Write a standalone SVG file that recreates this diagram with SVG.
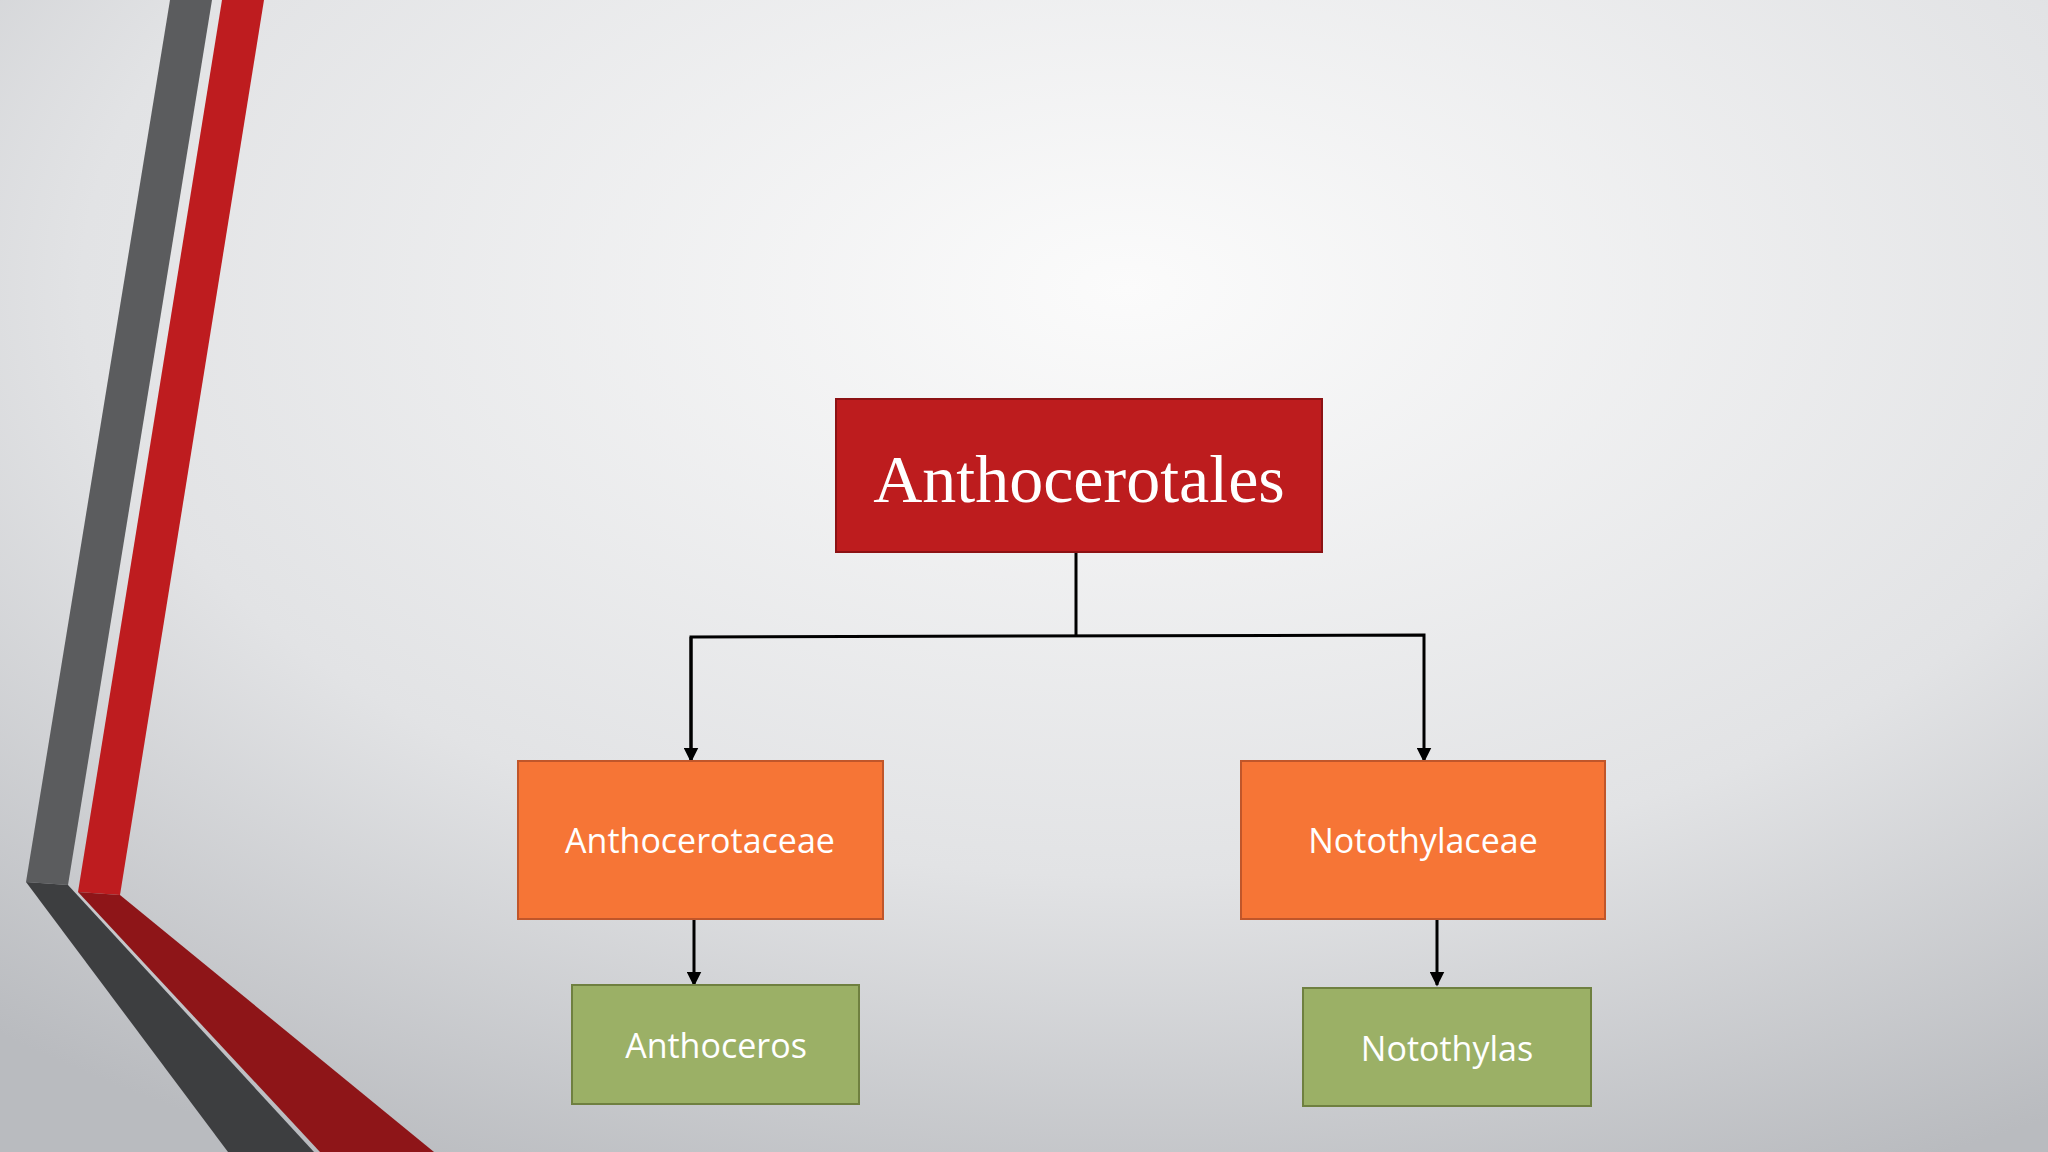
<svg xmlns="http://www.w3.org/2000/svg" width="2048" height="1152" viewBox="0 0 2048 1152">
<defs>
<radialGradient id="bg" cx="0.55" cy="0.25" r="0.85">
<stop offset="0" stop-color="#fbfbfb"/><stop offset="0.6" stop-color="#e2e3e5"/><stop offset="1" stop-color="#b9bbbf"/>
</radialGradient>
<marker id="ar" viewBox="0 0 10 10" refX="9" refY="5" markerWidth="5" markerHeight="5" orient="auto"><path d="M0,0L10,5L0,10z" fill="#000"/></marker>
<style>
.sub{font-family:"Open Sans","Noto Sans",sans-serif;font-size:34px;fill:#fff;text-anchor:middle}
.or{fill:#f67536;stroke:#c0562a;stroke-width:2}
.gr{fill:#9bb066;stroke:#6f8040;stroke-width:2}
.c{stroke:#000;stroke-width:3;fill:none}
</style>
</defs>
<rect width="2048" height="1152" fill="url(#bg)"/>
<polygon points="170,0 212,0 68,885 26,882" fill="#5b5c5e"/>
<polygon points="26,882 68,885 314,1152 228,1152" fill="#3d3e40"/>
<polygon points="222,0 264,0 120,895 78,892" fill="#be1c1f"/>
<polygon points="78,892 120,895 434,1152 320,1152" fill="#8e1518"/>
<g id="connectors">
<path class="c" d="M1076,552V636"/>
<path class="c" d="M691,761V637L1424,635V761" marker-end="url(#ar)"/>
<path class="c" d="M691,637V761" marker-end="url(#ar)"/>
<path class="c" d="M694,919V985" marker-end="url(#ar)"/>
<path class="c" d="M1437,919V985" marker-end="url(#ar)"/>
</g>
<g id="n-root"><rect x="836" y="399" width="486" height="153" fill="#bd1c1e" stroke="#8c1214" stroke-width="2"/>
<text x="1079" y="502" font-family="Liberation Serif,serif" font-size="68" fill="#fff" text-anchor="middle">Anthocerotales</text></g>
<g id="n-anthocerotaceae"><rect class="or" x="518" y="761" width="365" height="158"/><text class="sub" x="700" y="853">Anthocerotaceae</text></g>
<g id="n-notothylaceae"><rect class="or" x="1241" y="761" width="364" height="158"/><text class="sub" x="1423" y="853">Notothylaceae</text></g>
<g id="n-anthoceros"><rect class="gr" x="572" y="985" width="287" height="119"/><text class="sub" x="716" y="1058">Anthoceros</text></g>
<g id="n-notothylas"><rect class="gr" x="1303" y="988" width="288" height="118"/><text class="sub" x="1447" y="1061">Notothylas</text></g>
</svg>
